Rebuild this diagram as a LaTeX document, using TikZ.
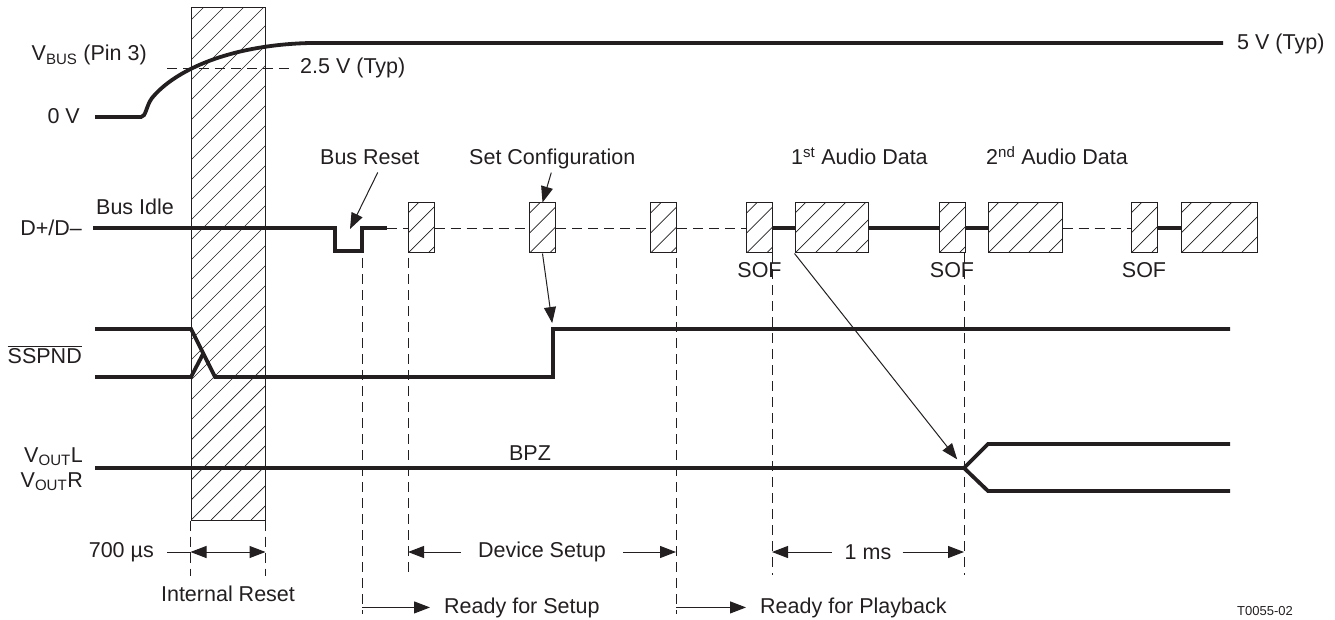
\documentclass[tikz,border=0pt]{standalone}
\usepackage{fontspec}
\setmainfont{Liberation Sans}
\usetikzlibrary{arrows.meta,calc}
\definecolor{ink}{HTML}{231F20}

\begin{document}
\begin{tikzpicture}[x=1pt,y=-1pt,font=\fontsize{21.5}{25}\selectfont,
  sig/.style={ink,line width=3.8pt,line join=miter},
  guide/.style={ink,line width=0.9pt,dash pattern=on 10pt off 6pt},
  thinline/.style={ink,line width=1pt},
  tip/.style={ink,line width=1pt,-{Triangle[length=16pt,width=12pt]}},
  bothtips/.style={ink,line width=1pt,{Triangle[length=16pt,width=12pt]}-{Triangle[length=16pt,width=12pt]}},
  hatch/.style={draw=ink,line width=1pt,inner sep=0pt,
    path picture={\foreach \k in {-28,...,4}
      \draw[ink,line width=0.7pt] ([xshift=\k*20pt]path picture bounding box.south west) -- ++(800pt,800pt);}},
  pkt/.style={hatch,fill=white,minimum height=50pt},
  lbl/.style={ink,inner sep=0pt}]
  \useasboundingbox (0,0) rectangle (1335,620);

  % internal reset window
  \node[hatch,minimum width=74pt,minimum height=512pt] (rst) at (228,264) {};

  % marker positions
  \coordinate (mBR) at (362,258);
  \coordinate (mSU) at (408,258);
  \coordinate (mSC) at (676,258);
  \coordinate (mS1) at (772,253);
  \coordinate (mS2) at (964,253);
  \draw[guide] (rst.south west) -- ++(0,55);
  \draw[guide] (rst.south east) -- ++(0,55);
  \draw[guide] (mBR) -- ++(0,356);
  \draw[guide] (mSU) -- ++(0,317);
  \draw[guide] (mSC) -- ++(0,356);
  \draw[guide] (mS1) -- ++(0,322);
  \draw[guide] (mS2) -- ++(0,322);

  % VBUS
  \draw[guide] (167,68) -- (290,68);
  \draw[sig] (95,117) -- (141,117) .. controls (146,117) and (146,106) .. (152,98)
    .. controls (175,70) and (230,45) .. (310,43) -- (1223,43);
  \node[lbl,anchor=base east] (vbus) at (147,61) {V\textsubscript{BUS} (Pin 3)};
  \node[lbl,anchor=base west] (typ25) at (300,74) {2.5 V (Typ)};
  \node[lbl,anchor=base east] (zero) at (80,124) {0 V};
  \node[lbl,anchor=base west] (typ5) at (1237,50) {5 V (Typ)};

  % D+/D-
  \node[lbl,anchor=base east] (dlab) at (82,236) {D+/D--};
  \node[lbl,anchor=base west] (idle) at (96,215) {Bus Idle};
  \draw[sig] (93,228) -- (335,228) -- (335,251) -- (362,251) -- (362,228) -- (387,228);
  \node[pkt,minimum width=26pt] (b1) at (421,228) {};
  \node[pkt,minimum width=26pt] (b2) at (542.5,228) {};
  \node[pkt,minimum width=26pt] (b3) at (663.5,228) {};
  \node[pkt,minimum width=26pt] (sof1) at (759.5,228) {};
  \node[pkt,minimum width=73pt] (aud1) at (831.5,228) {};
  \node[pkt,minimum width=26pt] (sof2) at (952,228) {};
  \node[pkt,minimum width=74pt] (aud2) at (1025,228) {};
  \node[pkt,minimum width=26pt] (sof3) at (1144,228) {};
  \node[pkt,minimum width=76pt] (aud3) at (1219,228) {};
  \draw[guide] (387,228) -- (b1.west);
  \draw[guide] (b1.east) -- (b2.west);
  \draw[guide] (b2.east) -- (b3.west);
  \draw[guide] (b3.east) -- (sof1.west);
  \draw[sig] (sof1.east) -- (aud1.west);
  \draw[sig] (aud1.east) -- (sof2.west);
  \draw[sig] (sof2.east) -- (aud2.west);
  \draw[guide] (aud2.east) -- (sof3.west);
  \draw[sig] (sof3.east) -- (aud3.west);
  \node[lbl,anchor=base] (sofl1) at ($(sof1.south)+(0,24)$) {SOF};
  \node[lbl,anchor=base] (sofl2) at ($(sof2.south)+(0,24)$) {SOF};
  \node[lbl,anchor=base] (sofl3) at ($(sof3.south)+(0,24)$) {SOF};

  % annotations
  \node[lbl,anchor=base west] (brl) at (320,165) {Bus Reset};
  \node[lbl,anchor=base west] (scl) at (469,165) {Set Configuration};
  \node[lbl,anchor=base west] (a1l) at (791,165) {1\textsuperscript{st} Audio Data};
  \node[lbl,anchor=base west] (a2l) at (986,165) {2\textsuperscript{nd} Audio Data};
  \coordinate (dip) at (350,229);
  \draw[tip] ([xshift=8pt,yshift=-7pt]brl.south) -- (dip);
  \draw[tip] ([xshift=-1pt,yshift=-3pt]scl.south) -- (b2.north);

  % SSPND
  \node[lbl,anchor=base east] (sspl) at (82,363) {$\overline{\hbox{SSPND}}$};
  \coordinate (sspup) at (553,329);
  \draw[sig] (95,329) -- (191,329) -- (215,377) -- (553,377) -- (sspup) -- (1230,329);
  \draw[sig] (95,377) -- (191,377) -- (203,354);
  \draw[tip,shorten >=6pt] (b2.south) -- (sspup);

  % VOUT
  \node[lbl,anchor=base east] (vl) at (83,462) {V\textsubscript{OUT}L};
  \node[lbl,anchor=base east] (vr) at (83,487) {V\textsubscript{OUT}R};
  \node[lbl] (bpz) at (530,453) {BPZ};
  \coordinate (vsplit) at (964,468);
  \draw[sig] (95,468) -- (vsplit) -- (988,444) -- (1230,444);
  \draw[sig] (vsplit) -- (988,491) -- (1230,491);
  \draw[tip,shorten >=11pt] (aud1.south west) -- (vsplit);

  % timing
  \node[lbl,anchor=east] (us) at (154,552) {700 µs};
  \draw[thinline] ([xshift=13pt]us.east) -- (us.east -| rst.south west);
  \draw[bothtips] (us.east -| rst.south west) -- (us.east -| rst.south east);
  \node[lbl] (irst) at (228,594) {Internal Reset};
  \node[lbl] (devs) at (542,552) {Device Setup};
  \draw[tip] ([xshift=-17pt]devs.west) -- (devs.west -| mSU);
  \draw[tip] ([xshift=17pt]devs.east) -- (devs.east -| mSC);
  \node[lbl] (onems) at (868,552) {1 ms};
  \draw[tip] ([xshift=-13pt]onems.west) -- (onems.west -| mS1);
  \draw[tip] ([xshift=11pt]onems.east) -- (onems.east -| mS2);
  \node[lbl,anchor=base west] (rfs) at (444,613) {Ready for Setup};
  \draw[tip] (rfs.west -| mBR) -- ([xshift=-14pt]rfs.west);
  \node[lbl,anchor=base west] (rfp) at (760,613) {Ready for Playback};
  \draw[tip] (rfp.west -| mSC) -- ([xshift=-14pt]rfp.west);
  \node[lbl,anchor=base west,font=\fontsize{13}{15}\selectfont] (fig) at (1237,615) {T0055-02};
\end{tikzpicture}
\end{document}
